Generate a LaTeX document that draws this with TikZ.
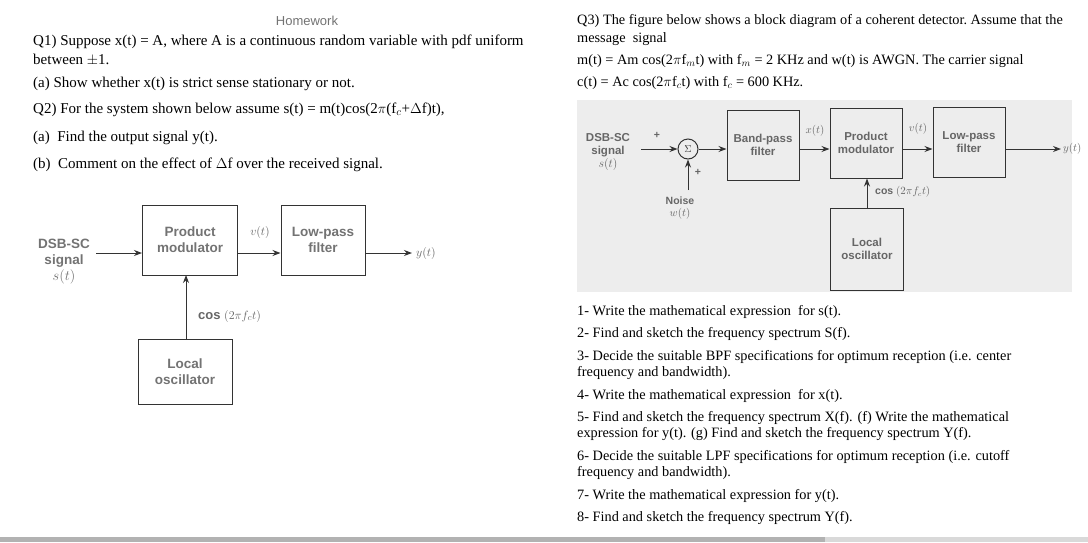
\documentclass[tikz,border=0pt]{standalone}
\usepackage{fontspec}
\setmainfont{Liberation Serif}
\newfontfamily\dg{Liberation Sans}
\usetikzlibrary{arrows.meta}
\begin{document}
\begin{tikzpicture}[x=1pt,y=-1pt,
 txt/.style={anchor=west,font=\fontsize{14.3}{15}\selectfont,inner sep=0},
 ltxt/.style={anchor=west,font=\fontsize{15}{16}\selectfont,inner sep=0},
 blk/.style={draw,line width=1pt,black!80},
 lbl/.style={font=\dg\bfseries\fontsize{13.5}{16}\selectfont,text=black!55,align=center,inner sep=0},
 rlbl/.style={font=\dg\bfseries\fontsize{11.5}{13}\selectfont,text=black!60,align=center,inner sep=0},
 sm/.style={font=\dg\bfseries\fontsize{13}{14}\selectfont,text=black!60,align=center,inner sep=0},
 rsm/.style={font=\dg\bfseries\fontsize{10.5}{12}\selectfont,text=black!60,align=center,inner sep=0},
 arr/.style={-{Stealth[length=8pt]},line width=1pt,black!80}]
\useasboundingbox (0,0) rectangle (1088,542);
\fill[white] (0,0) rectangle (1088,542);
\fill[black!15] (0,537) rectangle (1088,542);
\fill[black!30] (0,537) rectangle (825,542);
% left text
\node[font=\dg\fontsize{13}{14}\selectfont,text=black!55] (hw) at (307,21) {Homework};
\node[ltxt] (q1) at (33,42) {Q1) Suppose x(t) = A, where A is a continuous random variable with pdf uniform};
\node[ltxt] (q1b) at (33,60) {between $\pm$1.};
\node[ltxt] (q1a) at (33,84) {(a) Show whether x(t) is strict sense stationary or not.};
\node[ltxt] (q2) at (33,110) {Q2) For the system shown below assume s(t) = m(t)cos(2$\pi$(f$_c$+$\Delta$f)t),};
\node[ltxt] (q2a) at (33,138) {(a)\ \ Find the output signal y(t).};
\node[ltxt] (q2b) at (33,165) {(b)\ \ Comment on the effect of $\Delta$f over the received signal.};
% left diagram
\node[blk,minimum width=95,minimum height=70] (pm) at (190,240) {};
\node[lbl] at (pm) {Product\\modulator};
\node[blk,minimum width=84,minimum height=70] (lp) at (323,240) {};
\node[lbl] at (lp) {Low-pass\\filter};
\node[blk,minimum width=94,minimum height=65] (lo) at (185,372) {};
\node[lbl] at (lo) {Local\\oscillator};
\node[lbl] (in) at (64,262) {DSB-SC\\signal\\$s(t)$};
\coordinate (inp) at (96,253);
\coordinate (out) at (412,253);
\node[sm,anchor=west] (y1) at (416,253) {$y(t)$};
\draw[arr] (inp) -- (pm.west|-inp);
\draw[arr] (pm.east|-inp) -- (lp.west|-inp);
\draw[arr] (lp.east|-inp) -- (out);
\draw[arr] (lo.north -| 186,0) -- (186,275);
\node[sm] at (260,232) {$v(t)$};
\node[sm,anchor=west] at (198,316) {cos $(2\pi f_c t)$};
% right text
\node[txt] (q3) at (577,21) {Q3) The figure below shows a block diagram of a coherent detector.\ Assume that the};
\node[txt] at (577,39) {message\ \ signal};
\node[txt] at (577,61) {m(t) = Am cos(2$\pi$f$_m$t) with f$_m$ = 2 KHz and w(t) is AWGN. The carrier signal};
\node[txt] at (577,83) {c(t) = Ac cos(2$\pi$f$_c$t) with f$_c$ = 600 KHz.};
% right diagram
\fill[black!7] (577,100) rectangle (1072,292);
\node[blk,minimum width=72,minimum height=70] (bp) at (763,145) {};
\node[rlbl] at (bp) {Band-pass\\filter};
\node[blk,minimum width=72,minimum height=70] (pm2) at (866,143) {};
\node[rlbl] at (pm2) {Product\\modulator};
\node[blk,minimum width=72,minimum height=70] (lp2) at (969,142) {};
\node[rlbl] at (lp2) {Low-pass\\filter};
\node[blk,minimum width=73,minimum height=82] (lo2) at (867,249) {};
\node[rlbl] at (lo2) {Local\\oscillator};
\node[draw,circle,line width=1pt,black!80,minimum size=20,inner sep=0] (sig) at (688,149) {$\Sigma$};
\node[rlbl] at (608,152) {DSB-SC\\signal\\$s(t)$};
\coordinate (in2) at (641,149);
\draw[arr] (in2) -- (sig);
\draw[arr] (sig) -- (bp.west|-sig);
\draw[arr] (bp.east|-sig) -- (pm2.west|-sig);
\draw[arr] (pm2.east|-sig) -- (lp2.west|-sig);
\coordinate (out2) at (1061,149);
\draw[arr] (lp2.east|-sig) -- (out2);
\node[rsm,anchor=west] at (1063,149) {$y(t)$};
\coordinate (nz) at (688,190);
\draw[arr] (nz) -- (sig);
\node[rsm] at (680,208) {Noise\\$w(t)$};
\node[rsm] at (657,135) {+};\node[rsm] at (698,172) {+};
\draw[arr] (lo2.north -| 867,0) -- (pm2.south -| 867,0);
\node[rsm,anchor=west] at (875,192) {cos $(2\pi f_c t)$};
\node[rsm] at (815,131) {$x(t)$};
\node[rsm] at (918,129) {$v(t)$};
% right questions
\node[txt] at (577,312) {1- Write the mathematical expression\ \ for s(t).};
\node[txt] at (577,334) {2-\ Find and sketch the frequency spectrum S(f).};
\node[txt] at (577,357) {3-\ Decide the suitable BPF specifications for optimum reception (i.e. center};
\node[txt] at (577,373) {frequency and bandwidth).};
\node[txt] at (577,396) {4-\ Write the mathematical expression\ \ for x(t).};
\node[txt] at (577,418) {5-\ Find and sketch the frequency spectrum X(f). (f) Write the mathematical};
\node[txt] at (577,434) {expression for y(t). (g) Find and sketch the frequency spectrum Y(f).};
\node[txt] at (577,457) {6-\ Decide the suitable LPF specifications for optimum reception (i.e. cutoff};
\node[txt] at (577,473) {frequency and bandwidth).};
\node[txt] at (577,496) {7-\ Write the mathematical expression for y(t).};
\node[txt] at (577,518) {8-\ Find and sketch the frequency spectrum Y(f).};
\end{tikzpicture}
\end{document}
